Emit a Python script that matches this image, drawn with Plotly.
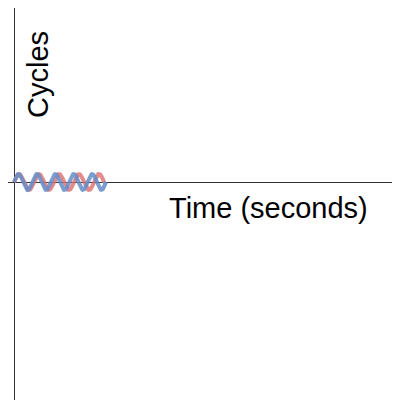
import numpy as np
import plotly.graph_objects as go

series_names = ["red", "blue"]
frequencies_hz = [4.6, 5.0]
durations_s = [0.98, 1.0]
amplitudes = [1.0, 1.0]
colors = ["rgba(220,110,110,0.8)", "rgba(100,140,200,0.85)"]

fig = go.Figure()
for name, f, d, a, c in zip(series_names, frequencies_hz, durations_s, amplitudes, colors):
    t = np.linspace(0, d, 300)
    fig.add_trace(go.Scatter(x=t, y=a*np.sin(2*np.pi*f*t), mode="lines", name=name,
                             line=dict(color=c, width=4), hoverinfo="skip"))

fig.update_layout(
    width=400, height=400, margin=dict(l=0, r=0, t=0, b=0),
    paper_bgcolor="white", plot_bgcolor="white", showlegend=False,
    font=dict(family="Liberation Sans, Arial, sans-serif", color="black"),
    xaxis=dict(range=[-6/92, 394/92], showgrid=False, zeroline=True, zerolinecolor="#333",
               zerolinewidth=1, showticklabels=False, ticks=""),
    yaxis=dict(range=[-226/8, 174/8], showgrid=False, zeroline=True, zerolinecolor="#333",
               zerolinewidth=1, showticklabels=False, ticks=""),
    annotations=[
        dict(text="Time (seconds)", xref="paper", yref="paper", x=260/400, y=1-200/400,
             showarrow=False, font=dict(size=29), xanchor="center", yanchor="middle"),
        dict(text="Cycles", xref="paper", yref="paper", x=30/400, y=1-67/400, textangle=-90,
             showarrow=False, font=dict(size=29), xanchor="center", yanchor="middle"),
    ],
)
fig.write_html("out.html")
